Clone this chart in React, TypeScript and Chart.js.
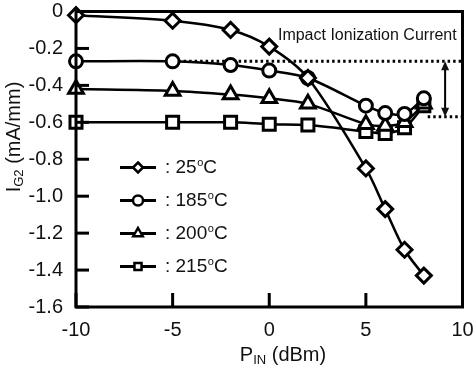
import React, { useEffect, useRef } from "react";
import { Chart, registerables } from "chart.js";

Chart.register(...registerables);

const xValues = [-10, -5, -2, 0, 2, 5, 6, 7, 8];
const s25 = [-0.02, -0.05, -0.1, -0.19, -0.36, -0.85, -1.07, -1.29, -1.43];
const s185 = [-0.27, -0.27, -0.29, -0.32, -0.36, -0.51, -0.55, -0.555, -0.47];
const s200 = [-0.42, -0.43, -0.45, -0.47, -0.5, -0.61, -0.62, -0.6, -0.5];
const s215 = [-0.6, -0.6, -0.6, -0.61, -0.615, -0.65, -0.66, -0.63, -0.51];
const seriesNames = ["25", "185", "200", "215"];
const pointStyles = ["rectRot", "circle", "triangle", "rect"];
const pointRadii = [7.5, 6.5, 8.5, 8.5];

const refTopY = -0.27;
const refTopX = [-5, 10];
const refBottomY = -0.57;
const refBottomX = [8.2, 10];
const arrowX = 9.1;
const noteText = "Impact Ionization Current";
const noteX = 9.7;
const noteY = -0.13;

const xTicks = [-10, -5, 0, 5, 10];
const yTickLabels = ["0", "-0.2", "-0.4", "-0.6", "-0.8", "-1.0", "-1.2", "-1.4", "-1.6"];

const FONT = "'Liberation Sans', Arial, sans-serif";

function drawMarker(ctx: CanvasRenderingContext2D, style: string, x: number, y: number, r: number) {
  ctx.beginPath();
  if (style === "rectRot") {
    ctx.moveTo(x, y - r);
    ctx.lineTo(x + r, y);
    ctx.lineTo(x, y + r);
    ctx.lineTo(x - r, y);
    ctx.closePath();
  } else if (style === "circle") {
    ctx.arc(x, y, r, 0, Math.PI * 2);
  } else if (style === "triangle") {
    ctx.moveTo(x, y - r);
    ctx.lineTo(x + r * 0.866, y + r * 0.5);
    ctx.lineTo(x - r * 0.866, y + r * 0.5);
    ctx.closePath();
  } else {
    const h = r * Math.SQRT1_2;
    ctx.rect(x - h, y - h, 2 * h, 2 * h);
  }
  ctx.fill();
  ctx.stroke();
}

function drawMixed(ctx: CanvasRenderingContext2D, parts: { t: string; size: number; dy: number }[], cx: number, cy: number) {
  let total = 0;
  for (const p of parts) {
    ctx.font = `${p.size}px ${FONT}`;
    total += ctx.measureText(p.t).width;
  }
  let x = cx - total / 2;
  ctx.textAlign = "left";
  ctx.textBaseline = "middle";
  for (const p of parts) {
    ctx.font = `${p.size}px ${FONT}`;
    ctx.fillText(p.t, x, cy + p.dy);
    x += ctx.measureText(p.t).width;
  }
}

const decorPlugin = {
  id: "decor",
  afterDatasetsDraw(chart: any) {
    const ctx: CanvasRenderingContext2D = chart.ctx;
    const { left, right, top, bottom } = chart.chartArea;
    const xs = chart.scales.x;
    const ys = chart.scales.y;
    ctx.save();
    ctx.strokeStyle = "#000";
    ctx.fillStyle = "#000";
    ctx.lineWidth = 3;
    ctx.strokeRect(left, top, right - left, bottom - top);
    ys.ticks.forEach((t: any) => {
      const py = ys.getPixelForValue(t.value);
      ctx.beginPath();
      ctx.moveTo(left, py);
      ctx.lineTo(left + 13, py);
      ctx.stroke();
    });
    xs.ticks.forEach((t: any) => {
      const px = xs.getPixelForValue(t.value);
      ctx.beginPath();
      ctx.moveTo(px, bottom);
      ctx.lineTo(px, bottom - 14);
      ctx.stroke();
    });
    ctx.fillStyle = "#111";
    ctx.font = `20px ${FONT}`;
    ctx.textAlign = "right";
    ctx.textBaseline = "middle";
    ys.ticks.forEach((t: any) => {
      const py = ys.getPixelForValue(t.value);
      const idx = Math.round(-t.value / 0.2);
      ctx.fillText(yTickLabels[idx] ?? String(t.value), 63, py);
    });
    ctx.textAlign = "center";
    xs.ticks.forEach((t: any) => {
      const px = xs.getPixelForValue(t.value);
      if (xTicks.includes(t.value)) ctx.fillText(String(t.value), px, bottom + 23);
    });
    drawMixed(
      ctx,
      [
        { t: "P", size: 20, dy: 0 },
        { t: "IN", size: 13, dy: 5 },
        { t: " (dBm)", size: 20, dy: 0 },
      ],
      283,
      bottom + 48
    );
    ctx.save();
    ctx.translate(14, 137);
    ctx.rotate(-Math.PI / 2);
    drawMixed(
      ctx,
      [
        { t: "I", size: 20, dy: 0 },
        { t: "G2", size: 13, dy: 5 },
        { t: " (mA/mm)", size: 20, dy: 0 },
      ],
      0,
      0
    );
    ctx.restore();
    ctx.font = `16px ${FONT}`;
    ctx.textAlign = "right";
    ctx.textBaseline = "middle";
    ctx.fillText(noteText, xs.getPixelForValue(noteX), ys.getPixelForValue(noteY));
    const ax = xs.getPixelForValue(arrowX);
    const ay1 = ys.getPixelForValue(refTopY);
    const ay2 = ys.getPixelForValue(refBottomY);
    ctx.lineWidth = 2;
    ctx.beginPath();
    ctx.moveTo(ax, ay1 + 6);
    ctx.lineTo(ax, ay2 - 6);
    ctx.stroke();
    ctx.beginPath();
    ctx.moveTo(ax, ay1);
    ctx.lineTo(ax - 4, ay1 + 9);
    ctx.lineTo(ax + 4, ay1 + 9);
    ctx.closePath();
    ctx.fill();
    ctx.beginPath();
    ctx.moveTo(ax, ay2);
    ctx.lineTo(ax - 4, ay2 - 9);
    ctx.lineTo(ax + 4, ay2 - 9);
    ctx.closePath();
    ctx.fill();
    seriesNames.forEach((name, i) => {
      const y = top + 156 + i * 33;
      const x0 = left + 44;
      const x1 = left + 80;
      ctx.strokeStyle = "#000";
      ctx.lineWidth = 3;
      ctx.beginPath();
      ctx.moveTo(x0, y);
      ctx.lineTo(x1, y);
      ctx.stroke();
      ctx.fillStyle = "#fff";
      ctx.lineWidth = 2.5;
      drawMarker(ctx, pointStyles[i], (x0 + x1) / 2, y, i === 2 ? 5.5 : 5);
      ctx.fillStyle = "#111";
      ctx.textAlign = "left";
      ctx.textBaseline = "middle";
      let tx = left + 89;
      ctx.font = `19px ${FONT}`;
      const main = ": " + name;
      ctx.fillText(main, tx, y);
      tx += ctx.measureText(main).width + 0.5;
      ctx.font = `11px ${FONT}`;
      ctx.fillText("o", tx, y - 5);
      tx += ctx.measureText("o").width;
      ctx.font = `19px ${FONT}`;
      ctx.fillText("C", tx, y);
    });
    ctx.restore();
  },
};

export default function App() {
  const ref = useRef<HTMLCanvasElement | null>(null);
  useEffect(() => {
    if (!ref.current) return;
    const all = [s25, s185, s200, s215];
    const datasets: any[] = all.map((s, i) => ({
      label: seriesNames[i] + "°C",
      data: xValues.map((x, j) => ({ x, y: s[j] })),
      borderColor: "#000",
      borderWidth: 2.5,
      backgroundColor: "#fff",
      pointBackgroundColor: "#fff",
      pointBorderColor: "#000",
      pointBorderWidth: 3,
      pointStyle: pointStyles[i],
      pointRadius: pointRadii[i],
      tension: 0.3,
      clip: false,
    }));
    datasets.push({
      label: "refTop",
      data: refTopX.map((x) => ({ x, y: refTopY })),
      borderColor: "#000",
      borderWidth: 3,
      borderDash: [2.5, 3],
      pointRadius: 0,
      tension: 0,
    });
    datasets.push({
      label: "refBottom",
      data: refBottomX.map((x) => ({ x, y: refBottomY })),
      borderColor: "#000",
      borderWidth: 3,
      borderDash: [2.5, 3],
      pointRadius: 0,
      tension: 0,
    });
    const chart = new Chart(ref.current, {
      type: "line",
      data: { datasets },
      options: {
        responsive: false,
        animation: false,
        events: [],
        layout: { padding: { left: 76, top: 11, right: 9, bottom: 63 } },
        plugins: { legend: { display: false }, tooltip: { enabled: false } },
        scales: {
          x: {
            type: "linear",
            min: -10,
            max: 10,
            ticks: { stepSize: 5, display: false },
            grid: { display: false, drawTicks: false },
            border: { display: false },
          },
          y: {
            type: "linear",
            min: -1.6,
            max: 0,
            ticks: { stepSize: 0.2, display: false },
            grid: { display: false, drawTicks: false },
            border: { display: false },
          },
        },
      },
      plugins: [decorPlugin],
    });
    return () => chart.destroy();
  }, []);
  return (
    <div style={{ position: "fixed", left: 0, top: 0, width: 474, height: 370, background: "#fff" }}>
      <canvas ref={ref} width={474} height={370} style={{ width: 474, height: 370 }} />
    </div>
  );
}
